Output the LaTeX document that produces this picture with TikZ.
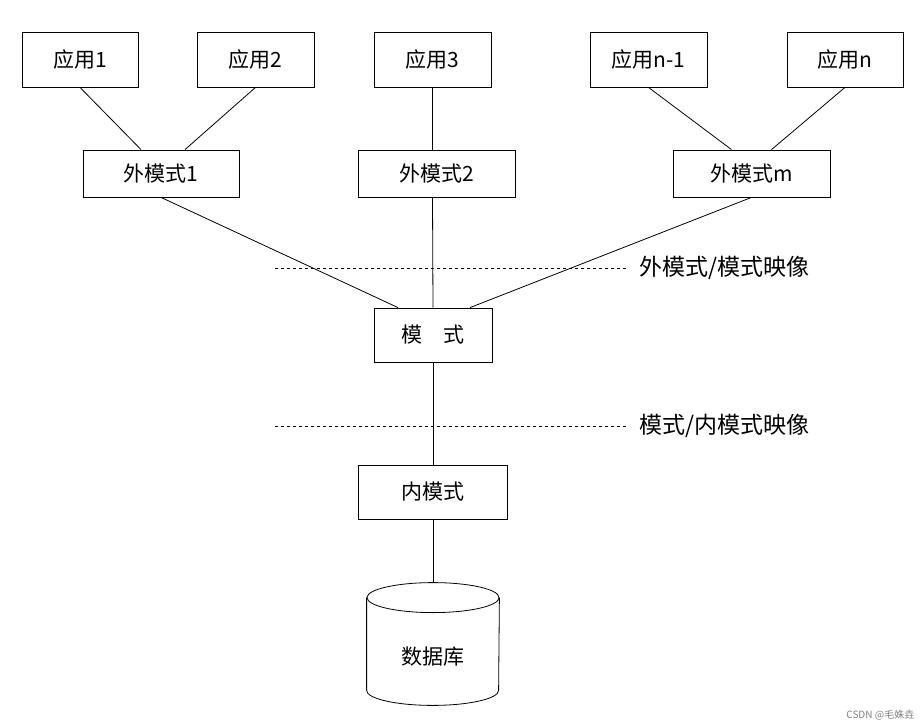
\documentclass[tikz,border=0pt]{standalone}
\usepackage{fontspec}
\setmainfont{Liberation Serif}
\newfontfamily\cjk{Noto Sans CJK SC}
\usetikzlibrary{calc}
\begin{document}
\begin{tikzpicture}[x=1pt,y=-1pt,line width=0.8pt,
		box/.style={rectangle, draw, inner sep=0pt, font=\cjk\fontsize{21}{23}\selectfont},
		label/.style={anchor=west, font=\cjk\fontsize{23}{25}\selectfont},
		]
		\useasboundingbox (0,0) rectangle (922,728);
		%Nodes
		\node[box, minimum width=116, minimum height=55] (app1)  at (80,59.5)   {应用1};
		\node[box, minimum width=117, minimum height=55] (app2)  at (255.5,59.5) {应用2};
		\node[box, minimum width=117, minimum height=55] (app3)  at (432.5,59.5) {应用3};
		\node[box, minimum width=117, minimum height=55] (appn1) at (648.5,59.5) {应用n-1};
		\node[box, minimum width=116, minimum height=55] (appn)  at (845,59.5)  {应用n};
		\node[box, minimum width=156, minimum height=47] (ext1)  at (161,173.5) {外模式1};
		\node[box, minimum width=157, minimum height=47] (ext2)  at (436.5,173.5) {外模式2};
		\node[box, minimum width=157, minimum height=47] (extm)  at (751.5,173.5) {外模式m};
		\node[box, minimum width=118, minimum height=54] (schema) at (433,335) {模\quad 式};
		\node[box, minimum width=149, minimum height=54] (inner) at (432.5,492) {内模式};
		\node[box, draw=none, minimum width=132, minimum height=122] (db) at (433,644) {};
		\node[font=\cjk\fontsize{21}{23}\selectfont] (dbtext) at (433,657) {数据库};
		\coordinate (d1w) at (275,268);
		\coordinate (d1e) at (627,268);
		\coordinate (d2w) at (275,426);
		\coordinate (d2e) at (627,426);
		\node[label] (map1) at (636,268) {外模式/模式映像};
		\node[label] (map2) at (636,426) {模式/内模式映像};
		\node[anchor=south east, text=gray, font=\cjk\fontsize{10}{12}\selectfont] (mark) at (918,724) {CSDN @毛姝垚};
		
		% Cylinder
		\draw ($(db.north)+(0,15)$) ellipse [x radius=66, y radius=15];
		\draw ($(db.north west)+(0,15)$) -- ($(db.south west)+(0,-15)$)
			arc [start angle=180, end angle=360, x radius=66, y radius=-15]
			-- ($(db.north east)+(0,15)$);
		
		%Lines
		\draw (app1.south) -- ($(ext1.north)+(-20,0)$);
		\draw (app2.south) -- ($(ext1.north)+(24,0)$);
		\draw (app3.south) -- (app3.south |- ext2.north);
		\draw (appn1.south) -- ($(extm.north)+(-20,0)$);
		\draw (appn.south) -- ($(extm.north)+(20,0)$);
		\draw (ext1.south) -- ($(schema.north)+(-35,0)$);
		\draw (app3.south |- ext2.south) -- (schema.north);
		\draw (extm.south) -- ($(schema.north)+(37,0)$);
		\draw (schema.south) -- (schema.south |- inner.north);
		\draw (schema.south |- inner.south) -- (db.north);
		\draw[dashed] (d1w) -- (d1e);
		\draw[dashed] (d2w) -- (d2e);
	\end{tikzpicture}
\end{document}
